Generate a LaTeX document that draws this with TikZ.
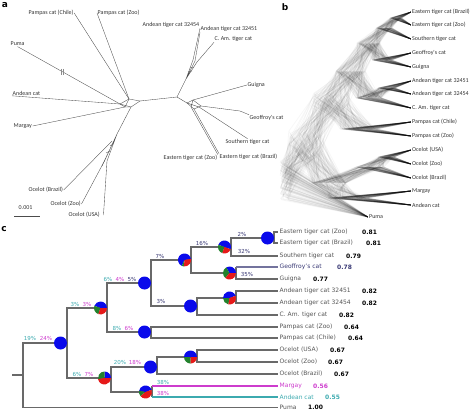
\documentclass[tikz,border=0pt]{standalone}
\usepackage{fontspec}
\setmainfont{DejaVu Sans}
\newfontfamily\calfont{Carlito}
\usetikzlibrary{positioning,calc}

\definecolor{pieblue}{RGB}{10,10,235}
\definecolor{piegreen}{RGB}{35,130,45}
\definecolor{piered}{RGB}{230,25,25}
\definecolor{pcteal}{RGB}{60,170,175}
\definecolor{pcmag}{RGB}{205,60,205}
\definecolor{pcnavy}{RGB}{55,55,115}
\definecolor{brgray}{RGB}{105,105,105}
\definecolor{txgray}{RGB}{85,85,85}

\newcommand{\pierad}{6.5}
% pie: centre, blue from #2 to #3, green #3 to #4, red the rest
\newcommand{\catpie}[4]{%
  \begin{scope}[shift={(#1)},yscale=-1]
    \fill[pieblue]  (0,0) -- (#2:\pierad) arc[start angle=#2,end angle=#3,radius=\pierad] -- cycle;
    \fill[piegreen] (0,0) -- (#3:\pierad) arc[start angle=#3,end angle=#4,radius=\pierad] -- cycle;
    \fill[piered]   (0,0) -- (#4:\pierad) arc[start angle=#4,end angle=#2+360,radius=\pierad] -- cycle;
  \end{scope}}

\begin{document}
\begin{tikzpicture}[x=1pt,y=-1pt,
    panel/.style={font=\bfseries\fontsize{9}{10}\selectfont,inner sep=0pt},
    netlbl/.style={anchor=west,inner sep=0.5pt,font=\calfont\fontsize{6}{7}\selectfont,text=black!80},
    net/.style={black!70,line width=0.35pt},
    dlbl/.style={anchor=west,inner sep=1pt,font=\calfont\fontsize{6}{7}\selectfont,text=black!80},
    dtree/.style={black,opacity=0.03,line width=0.8pt},
    tip/.style={anchor=west,inner sep=1.5pt,font=\fontsize{6}{7}\selectfont,text=txgray},
    val/.style={anchor=west,inner sep=0pt,font=\bfseries\fontsize{6}{7}\selectfont},
    pct/.style={inner sep=0pt,font=\fontsize{5.5}{6}\selectfont},
    branch/.style={brgray,line width=1.3pt},
    bluedot/.style={circle,fill=pieblue,inner sep=0pt,minimum size=13pt}]

\useasboundingbox (0,0) rectangle (474,412);

%%%% a: network
\node[panel] at (5,5) {a};
\node[netlbl] (a-pch) at (28,13)  {Pampas cat (Chile)};
\node[netlbl] (a-pzo) at (97,13)  {Pampas cat (Zoo)};
\node[netlbl] (a-a54) at (142,25) {Andean tiger cat 32454};
\node[netlbl] (a-a51) at (200,29) {Andean tiger cat 32451};
\node[netlbl] (a-cam) at (214,39) {C. Am. tiger cat};
\node[netlbl] (a-pum) at (10,44)  {Puma};
\node[netlbl] (a-gui) at (247,85) {Guigna};
\node[netlbl] (a-and) at (12,93)  {Andean cat};
\node[netlbl] (a-geo) at (249,118) {Geoffroy's cat};
\node[netlbl] (a-mar) at (13,126) {Margay};
\node[netlbl] (a-sou) at (225,142) {Southern tiger cat};
\node[netlbl] (a-etb) at (219,157) {Eastern tiger cat (Brazil)};
\node[netlbl] (a-etz) at (163,158) {Eastern tiger cat (Zoo)};
\node[netlbl] (a-obr) at (28,190) {Ocelot (Brazil)};
\node[netlbl] (a-ozo) at (50,204) {Ocelot (Zoo)};
\node[netlbl] (a-ous) at (68,215) {Ocelot (USA)};
\node[netlbl] (a-bar) at (18,208) {0.001};

\coordinate (n1) at (120,104);
\coordinate (n2) at (129,99);
\coordinate (n3) at (140,101);
\coordinate (n4) at (131,107);
\coordinate (n5) at (125,107);
\coordinate (m1) at (177,97);
\coordinate (t1) at (186,79);
\coordinate (t2) at (193,60);
\coordinate (t3) at (195,61);
\coordinate (t4) at (197,62);
\coordinate (r1) at (187,103);
\coordinate (r2) at (193,100);
\coordinate (r3) at (201,106);
\coordinate (r4) at (194,109);
\coordinate (r5) at (199,107);
\coordinate (r6) at (191,107);
\coordinate (o1) at (117,134);
\coordinate (o2) at (112,141);
\coordinate (o3) at (105,160);
\coordinate (o4) at (107,161);
\coordinate (sb1) at (14,216);
\coordinate (sb2) at (40,216);

\begin{scope}[net]
  \draw (n1) -- (n2) -- (n3) -- (n4) -- (n5) -- cycle;
  \draw (n2) -- (n5) (n1) -- (n4);
  \draw (n3) -- (m1);
  \draw (m1) -- (t1);
  \draw (t1) -- (t2) (t1) -- (t3) (t1) -- (t4);
  \draw (188,72) -- (192,71) (190,68) -- (194,67);
  \draw (t2) -- (a-a54.south east);
  \draw (t3) -- (a-a51.south west);
  \draw (t4) -- (a-cam.south west);
  \draw (m1) -- (r1);
  \draw (r1) -- (r2) -- (r3) -- (r4) -- cycle;
  \draw (r1) -- (r5) (r2) -- (r6);
  \draw (r2) -- (a-gui.west);
  \draw (r3) -- (240,111) -- (a-geo.north west);
  \draw (r5) -- (a-sou.north);
  \draw (r4) -- (a-etb.north west);
  \draw (r6) -- (a-etz.north east);
  \draw (n2) -- (a-pch.east);
  \draw (n2) -- (a-pzo.west);
  \draw (n1) -- (a-pum.south);
  \draw (n1) -- (a-and.south west);
  \draw (n5) -- (a-mar.east);
  \draw (n4) -- (o1);
  \draw (o1) -- (o3) (o1) -- (o4) (o1) -- (102,166);
  \draw (113,144) -- (110,146) (110,151) -- (106,153);
  \draw (o2) -- (a-obr.east);
  \draw (o3) -- (a-ozo.east);
  \draw (o4) -- ([xshift=3pt]a-ous.east);
  \draw (sb1) -- (sb2);
\end{scope}
\draw[black!45,line width=0.4pt] (61,69) -- (61,75) (63,69) -- (63,75);

%%%% b: densitree
\node[panel] at (285,7) {b};
\node[dlbl] (b-ebr) at (411,12)  {Eastern tiger cat (Brazil)};
\node[dlbl] (b-ezo) at (411,25)  {Eastern tiger cat (Zoo)};
\node[dlbl] (b-sou) at (411,39)  {Southern tiger cat};
\node[dlbl] (b-geo) at (411,53)  {Geoffroy's cat};
\node[dlbl] (b-gui) at (411,67)  {Guigna};
\node[dlbl] (b-a51) at (411,81)  {Andean tiger cat 32451};
\node[dlbl] (b-a54) at (411,94)  {Andean tiger cat 32454};
\node[dlbl] (b-cam) at (411,108) {C. Am. tiger cat};
\node[dlbl] (b-pch) at (411,122) {Pampas cat (Chile)};
\node[dlbl] (b-pzo) at (411,136) {Pampas cat (Zoo)};
\node[dlbl] (b-ous) at (411,150) {Ocelot (USA)};
\node[dlbl] (b-ozo) at (411,164) {Ocelot (Zoo)};
\node[dlbl] (b-obr) at (411,178) {Ocelot (Brazil)};
\node[dlbl] (b-mar) at (411,191) {Margay};
\node[dlbl] (b-and) at (411,205) {Andean cat};
\node[dlbl] (b-pum) at (368,217) {Puma};

\pgfmathsetseed{42}
\foreach \k in {1,...,120}{
  \pgfmathsetmacro\xr{280+10*rnd}
  \pgfmathsetmacro\yr{160+40*rnd}
  \pgfmathsetmacro\xin{288+36*rnd}
  \pgfmathsetmacro\xtp{312+38*rnd}
  \pgfmathsetmacro\xtg{336+30*rnd}
  \pgfmathsetmacro\xsm{356+24*rnd}
  \pgfmathsetmacro\xets{376+16*rnd}
  \pgfmathsetmacro\xet{390+12*rnd}
  \pgfmathsetmacro\xgg{372+20*rnd}
  \pgfmathsetmacro\xac{356+26*rnd}
  \pgfmathsetmacro\xa{378+17*rnd}
  \pgfmathsetmacro\xp{340+36*rnd}
  \pgfmathsetmacro\xoma{310+36*rnd}
  \pgfmathsetmacro\xo{356+28*rnd}
  \pgfmathsetmacro\xoo{378+16*rnd}
  \pgfmathsetmacro\xma{326+40*rnd}
  \pgfmathsetmacro\ytp{92+16*rnd}
  \pgfmathsetmacro\yin{130+25*rnd}
  \coordinate (d-r)   at (\xr,\yr);
  \coordinate (d-in)  at (\xin,\yin);
  \coordinate (d-tp)  at (\xtp,\ytp);
  \coordinate (d-tg)  at (\xtg,71);
  \coordinate (d-sm)  at (\xsm,43);
  \coordinate (d-ets) at (\xets,28);
  \coordinate (d-et)  at (\xet,18);
  \coordinate (d-gg)  at (\xgg,60);
  \coordinate (d-ac)  at (\xac,98);
  \coordinate (d-a)   at (\xa,88);
  \coordinate (d-p)   at (\xp,129);
  \coordinate (d-oma) at (\xoma,183);
  \coordinate (d-o)   at (\xo,167);
  \coordinate (d-oo)  at (\xoo,157);
  \coordinate (d-ma)  at (\xma,198);
  \draw[dtree] (d-r) -- (d-in) (d-r) -- (b-pum.west)
    (d-in) -- (d-tp) (d-in) -- (d-oma)
    (d-tp) -- (d-tg) (d-tp) -- (d-p)
    (d-tg) -- (d-sm) (d-tg) -- (d-ac)
    (d-sm) -- (d-ets) (d-sm) -- (d-gg)
    (d-ets) -- (d-et) (d-ets) -- (b-sou.west)
    (d-et) -- (b-ebr.west) (d-et) -- (b-ezo.west)
    (d-gg) -- (b-geo.west) (d-gg) -- (b-gui.west)
    (d-ac) -- (d-a) (d-ac) -- (b-cam.west)
    (d-a) -- (b-a51.west) (d-a) -- (b-a54.west)
    (d-p) -- (b-pch.west) (d-p) -- (b-pzo.west)
    (d-oma) -- (d-o) (d-oma) -- (d-ma)
    (d-o) -- (d-oo) (d-o) -- (b-obr.west)
    (d-oo) -- (b-ous.west) (d-oo) -- (b-ozo.west)
    (d-ma) -- (b-mar.west) (d-ma) -- (b-and.west);
}

%%%% c: tree with pies
\node[panel] at (4,229) {c};
\node[tip] (t-ez)  at (278,232) {Eastern tiger cat (Zoo)};
\node[tip] (t-eb)  at (278,243) {Eastern tiger cat (Brazil)};
\node[tip] (t-sou) at (278,256) {Southern tiger cat};
\node[tip,text=pcnavy] (t-geo) at (278,267) {Geoffroy's cat};
\node[tip] (t-gui) at (278,279) {Guigna};
\node[tip] (t-a51) at (278,291) {Andean tiger cat 32451};
\node[tip] (t-a54) at (278,303) {Andean tiger cat 32454};
\node[tip] (t-cam) at (278,315) {C. Am. tiger cat};
\node[tip] (t-pzo) at (278,327) {Pampas cat (Zoo)};
\node[tip] (t-pch) at (278,338) {Pampas cat (Chile)};
\node[tip] (t-ous) at (278,350) {Ocelot (USA)};
\node[tip] (t-ozo) at (278,362) {Ocelot (Zoo)};
\node[tip] (t-obr) at (278,374) {Ocelot (Brazil)};
\node[tip,text=pcmag]  (t-mar) at (278,386) {Margay};
\node[tip,text=pcteal] (t-and) at (278,397) {Andean cat};
\node[tip] (t-pum) at (278,407.5) {Puma};

\node[val] (v-ez)  at (362,232) {0.81};
\node[val] (v-eb)  at (366,243) {0.81};
\node[val] (v-sou) at (346,256) {0.79};
\node[val,text=pcnavy] (v-geo) at (337,267) {0.78};
\node[val] (v-gui) at (313,279) {0.77};
\node[val] (v-a51) at (362,291) {0.82};
\node[val] (v-a54) at (362,303) {0.82};
\node[val] (v-cam) at (339,315) {0.82};
\node[val] (v-pzo) at (344,327) {0.64};
\node[val] (v-pch) at (348,338) {0.64};
\node[val] (v-ous) at (330,350) {0.67};
\node[val] (v-ozo) at (328,362) {0.67};
\node[val] (v-obr) at (334,374) {0.67};
\node[val,text=pcmag]  (v-mar) at (313,386) {0.56};
\node[val,text=pcteal] (v-and) at (325,397) {0.55};
\node[val] (v-pum) at (308,407.5) {1.00};

\coordinate (c-stub) at (12,375);
\coordinate (c0)  at (23,375);
\coordinate (c1)  at (67,343);
\coordinate (c2)  at (107,308);
\coordinate (c3)  at (111,378);
\coordinate (c4)  at (151,283);
\coordinate (c-pam) at (151,332);
\coordinate (c5)  at (191,260);
\coordinate (c9)  at (197,306);
\coordinate (c6)  at (231,247);
\coordinate (c8)  at (236,273);
\coordinate (c7)  at (274,238);
\coordinate (c10) at (236,298);
\coordinate (c11) at (157,367);
\coordinate (c12) at (197,357);
\coordinate (c13) at (152,392);

\begin{scope}[branch]
  \draw (c-stub) -- (c0);
  \draw (c0) |- (c1);
  \draw (c0) |- (t-pum.west);
  \draw (c1) |- (c2);
  \draw (c1) |- (c3);
  \draw (c2) |- (c4);
  \draw (c2) |- (c-pam);
  \draw (c4) |- (c5);
  \draw (c4) |- (c9);
  \draw (c5) |- (c6);
  \draw (c5) |- (c8);
  \draw (c6) |- (c7);
  \draw (c6) |- (t-sou.west);
  \draw (c7) |- (t-ez.west);
  \draw (c7) |- (t-eb.west);
  \draw (c8) |- (t-gui.west);
  \draw (c9) |- (c10);
  \draw (c9) |- (t-cam.west);
  \draw (c10) |- (t-a51.west);
  \draw (c10) |- (t-a54.west);
  \draw (c-pam) |- (t-pzo.west);
  \draw (c-pam) |- (t-pch.west);
  \draw (c3) |- (c11);
  \draw (c3) |- (c13);
  \draw (c11) |- (c12);
  \draw (c11) |- (t-obr.west);
  \draw (c12) |- (t-ous.west);
  \draw (c12) |- (t-ozo.west);
  \draw (c13 |- t-mar) -- (c13 |- t-and);
  \draw (c8) |- (c8 |- t-geo);
  \draw[pcnavy!70] (c8 |- t-geo) -- (t-geo.west);
  \draw[pcmag] (c13 |- t-mar) -- (t-mar.west);
  \draw[pcteal] (c13 |- t-and) -- (t-and.west);
\end{scope}

% blue nodes and pies
\node[bluedot] (p1)   at ($(c1)+(-6.5,0)$) {};
\node[bluedot] (p4)   at ($(c4)+(-6.5,0)$) {};
\node[bluedot] (p9)   at ($(c9)+(-6.5,0)$) {};
\node[bluedot] (ppam) at ($(c-pam)+(-6.5,0)$) {};
\node[bluedot] (p11)  at ($(c11)+(-6.5,0)$) {};
\node[bluedot] (p7)   at ($(c7)+(-6.5,0)$) {};
\coordinate (p2)  at ($(c2)+(-6.5,0)$);
\coordinate (p3)  at ($(c3)+(-6.5,0)$);
\coordinate (p5)  at ($(c5)+(-6.5,0)$);
\coordinate (p6)  at ($(c6)+(-6.5,0)$);
\coordinate (p8)  at ($(c8)+(-6.5,0)$);
\coordinate (p10) at ($(c10)+(-6.5,0)$);
\coordinate (p12) at ($(c12)+(-6.5,0)$);
\coordinate (p13) at ($(c13)+(-6.5,0)$);
\catpie{p2}{0}{160}{250}
\catpie{p3}{0}{90}{190}
\catpie{p5}{10}{245}{265}
\catpie{p6}{-20}{160}{250}
\catpie{p8}{0}{120}{230}
\catpie{p10}{20}{180}{260}
\catpie{p12}{0}{180}{270}
\catpie{p13}{20}{170}{220}

% support values
\node[pct,text=pcteal] at (30,338) {19\%};
\node[pct,text=pcmag]  at (46,338) {24\%};
\node[pct,text=pcteal] at (75,304) {3\%};
\node[pct,text=pcmag]  at (87,304) {3\%};
\node[pct,text=pcteal] at (108,279) {6\%};
\node[pct,text=pcmag]  at (120,279) {4\%};
\node[pct,text=pcnavy] at (132,279) {5\%};
\node[pct,text=pcnavy] at (160,256) {7\%};
\node[pct,text=pcnavy] at (202,243) {16\%};
\node[pct,text=pcnavy] at (242,234) {2\%};
\node[pct,text=pcnavy] at (244,251) {32\%};
\node[pct,text=pcnavy] at (247,274) {35\%};
\node[pct,text=pcnavy] at (161,301) {3\%};
\node[pct,text=pcteal] at (117,328) {8\%};
\node[pct,text=pcmag]  at (129,328) {6\%};
\node[pct,text=pcteal] at (77,374) {6\%};
\node[pct,text=pcmag]  at (89,374) {7\%};
\node[pct,text=pcteal] at (120,362) {20\%};
\node[pct,text=pcmag]  at (135,362) {18\%};
\node[pct,text=pcteal] at (163,382) {38\%};
\node[pct,text=pcmag]  at (163,393) {38\%};

\end{tikzpicture}
\end{document}
